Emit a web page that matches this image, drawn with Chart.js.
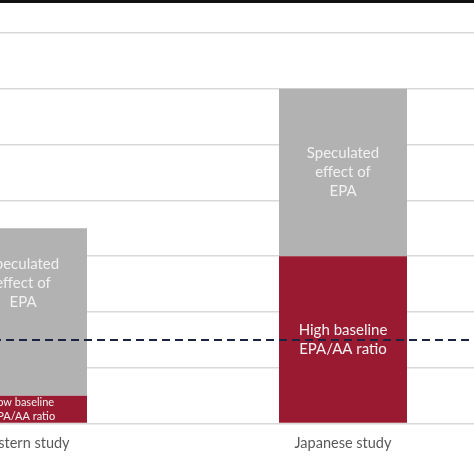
<!DOCTYPE html>
<html>
<head>
<meta charset="utf-8">
<script src="https://cdn.jsdelivr.net/npm/chart.js@4"></script>
<style>
  html, body { margin: 0; padding: 0; background: #fff; overflow: hidden; }
  body { width: 474px; height: 474px; position: relative; }
  #topRule { position: absolute; left: 0; top: 0; width: 474px; height: 3px; background: #111; z-index: 2; }
  #wrap { position: absolute; left: -137px; top: 0; width: 640px; height: 474px; }
</style>
</head>
<body>
<div id="topRule"></div>
<div id="wrap"><canvas id="epaChart"></canvas></div>
<script>
// categories and stacked values (in gridline units)
const studies = ['Western study', 'Japanese study'];
const baselineValues = [0.5, 3];
const speculatedValues = [3, 3];
const thresholdValue = 1.5;

// texts written inside each segment
const baselineTexts = [['Low baseline', 'EPA/AA ratio'], ['High baseline', 'EPA/AA ratio']];
const speculatedTexts = [['Speculated', 'effect of', 'EPA'], ['Speculated', 'effect of', 'EPA']];

const segmentText = {
    id: 'segmentText',
    afterDatasetsDraw(chart, args, opts) {
        const ctx = chart.ctx;
        chart.data.datasets.forEach((ds, di) => {
            const meta = chart.getDatasetMeta(di);
            meta.data.forEach((bar, i) => {
                const lines = ds.texts[i];
                const size = opts.sizes[di][i];
                const lh = size * 1.27;
                const frac = opts.anchors[di][i];
                const cy = bar.y + (bar.base - bar.y) * frac;
                ctx.save();
                ctx.font = size + 'px Lato, "Open Sans", sans-serif';
                ctx.fillStyle = '#f1f1f1';
                ctx.textAlign = 'center';
                ctx.textBaseline = 'middle';
                lines.forEach((t, k) => {
                    ctx.fillText(t, bar.x, cy + (k - (lines.length - 1) / 2) * lh);
                });
                ctx.restore();
            });
        });
    }
};

const thresholdLine = {
    id: 'thresholdLine',
    afterDatasetsDraw(chart) {
        const { ctx, chartArea } = chart;
        const y = chart.scales.y.getPixelForValue(thresholdValue);
        ctx.save();
        ctx.strokeStyle = '#1c2340';
        ctx.lineWidth = 2;
        ctx.setLineDash([8, 5]);
        ctx.beginPath();
        ctx.moveTo(chartArea.left, y);
        ctx.lineTo(chartArea.right, y);
        ctx.stroke();
        ctx.restore();
    }
};

const epaCtx = document.getElementById('epaChart').getContext('2d');
const epaChart = new Chart(epaCtx, {
    type: 'bar',
    data: {
        labels: studies,
        datasets: [
            {
                label: 'Baseline EPA/AA ratio',
                data: baselineValues,
                texts: baselineTexts,
                backgroundColor: '#9a1b31',
                barPercentage: 0.4,
                categoryPercentage: 1
            },
            {
                label: 'Speculated effect of EPA',
                data: speculatedValues,
                texts: speculatedTexts,
                backgroundColor: '#b2b2b2',
                barPercentage: 0.4,
                categoryPercentage: 1
            }
        ]
    },
    options: {
        responsive: true,
        maintainAspectRatio: false,
        animation: false,
        layout: { padding: { top: 33, bottom: 19 } },
        scales: {
            x: {
                stacked: true,
                grid: { display: false },
                border: { display: false },
                ticks: {
                    color: '#595959',
                    padding: 3,
                    font: { family: 'Lato, "Open Sans", sans-serif', size: 14.5 }
                }
            },
            y: {
                stacked: true,
                min: 0,
                max: 7,
                ticks: { display: false, stepSize: 1 },
                grid: { color: '#d9d9d9', lineWidth: 1.5, drawTicks: false },
                border: { display: false }
            }
        },
        plugins: {
            legend: { display: false },
            tooltip: { enabled: false },
            segmentText: {
                sizes: [[11, 15], [15, 15]],
                anchors: [[0.5, 0.5], [0.33, 0.5]]
            }
        }
    },
    plugins: [segmentText, thresholdLine]
});
</script>
</body>
</html>
